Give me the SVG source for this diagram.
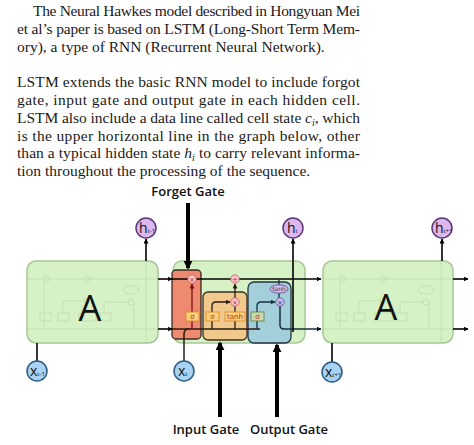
<svg xmlns="http://www.w3.org/2000/svg" width="474" height="445" viewBox="0 0 474 445">
<defs>
<marker id="ah" viewBox="0 0 10 10" refX="9" refY="5" markerWidth="5" markerHeight="5" orient="auto" markerUnits="userSpaceOnUse">
<path d="M0,0 L10,5 L0,10 z" fill="#000"/>
</marker>
<marker id="ahb" viewBox="0 0 10 10" refX="8" refY="5" markerWidth="9" markerHeight="9" orient="auto" markerUnits="userSpaceOnUse">
<path d="M0,0 L10,5 L0,10 z" fill="#000"/>
</marker>
<marker id="ahs" viewBox="0 0 10 10" refX="9" refY="5" markerWidth="5" markerHeight="5" orient="auto" markerUnits="userSpaceOnUse">
<path d="M0,0 L10,5 L0,10 z" fill="#2a1a10"/>
</marker>
<marker id="ahr" viewBox="0 0 10 10" refX="9" refY="5" markerWidth="5" markerHeight="5" orient="auto" markerUnits="userSpaceOnUse">
<path d="M0,0 L10,5 L0,10 z" fill="#7a1010"/>
</marker>
<marker id="aht" viewBox="0 0 10 10" refX="9" refY="5" markerWidth="5" markerHeight="5" orient="auto" markerUnits="userSpaceOnUse">
<path d="M0,0 L10,5 L0,10 z" fill="#17323d"/>
</marker>
</defs>
<style>
.body{font-family:"Liberation Serif","Times New Roman",serif;font-size:15.5px;fill:#1a1a1a}
.lbl{font-family:"Open Sans","DejaVu Sans",sans-serif;font-size:13px;font-weight:600;fill:#111;text-anchor:middle}
.cell{fill:#d6f1c6;stroke:#a5c795;stroke-width:1.5}
.ghost{fill:none;stroke:#a9c79a;stroke-width:1;opacity:.4}
.big{font-family:"Open Sans","DejaVu Sans",sans-serif;font-size:36px;fill:#111;text-anchor:middle}
.hc{fill:#dcb8ee;stroke:#5a3777;stroke-width:1.5}
.xc{fill:#a9d3f2;stroke:#2f5a82;stroke-width:1.5}
.nt{font-family:"Open Sans","DejaVu Sans",sans-serif;fill:#111}
.ln{stroke:#000;stroke-width:1.6;fill:none}
.thick{stroke:#000;stroke-width:4;fill:none}
.sig{fill:#fbcf7e;stroke:#d9832a;stroke-width:0.8}
.st{font-family:"DejaVu Sans",sans-serif;font-size:7px;fill:#b03a10;text-anchor:middle}
.op{fill:#f7c8cb;stroke:#c55a66;stroke-width:0.8}
.opt{font-family:"DejaVu Sans",sans-serif;font-size:7px;fill:#b0303a;text-anchor:middle}
</style>

<g id="text">
<text class="body" x="33" y="16" textLength="327" lengthAdjust="spacing">The Neural Hawkes model described in Hongyuan Mei</text>
<text class="body" x="17" y="34" textLength="343" lengthAdjust="spacing">et al’s paper is based on LSTM (Long-Short Term Mem-</text>
<text class="body" x="17" y="52">ory), a type of RNN (Recurrent Neural Network).</text>
<text class="body" x="17" y="87" textLength="343" lengthAdjust="spacing">LSTM extends the basic RNN model to include forgot</text>
<text class="body" x="17" y="105" textLength="343" lengthAdjust="spacing">gate, input gate and output gate in each hidden cell.</text>
<text class="body" x="17" y="123" textLength="343" lengthAdjust="spacing">LSTM also include a data line called cell state <tspan font-style="italic">c</tspan><tspan font-style="italic" font-size="10" dy="3">i</tspan><tspan dy="-3">, which</tspan></text>
<text class="body" x="17" y="141" textLength="343" lengthAdjust="spacing">is the upper horizontal line in the graph below, other</text>
<text class="body" x="17" y="158" textLength="343" lengthAdjust="spacing">than a typical hidden state <tspan font-style="italic">h</tspan><tspan font-style="italic" font-size="10" dy="3">i</tspan><tspan dy="-3"> to carry relevant informa-</tspan></text>
<text class="body" x="17" y="176">tion throughout the processing of the sequence.</text>
</g>

<g id="cell-left">
<rect class="cell" x="27" y="261" width="131" height="82" rx="9"/>
<g class="ghost">
<line x1="27" y1="279" x2="158" y2="279"/>
<line x1="27" y1="329" x2="158" y2="329"/>
<line x1="44" y1="329" x2="44" y2="282"/>
<circle cx="46" cy="279" r="3"/><circle cx="87" cy="279" r="3"/><circle cx="87" cy="301" r="3"/><circle cx="131" cy="302" r="3"/>
<rect x="40" y="313" width="11" height="8"/><rect x="58" y="313" width="11" height="8"/><rect x="79" y="313" width="18" height="8"/><rect x="100" y="313" width="11" height="8"/>
<path d="M104,313 V302 H127"/><path d="M63,313 V301 H84"/>
<ellipse cx="131" cy="290" rx="8" ry="4"/>
<path d="M134,302 V329"/><line x1="146" y1="261" x2="146" y2="343"/>
</g>
<text class="big" x="90" y="321">A</text>
</g>

<g id="cell-mid">
<rect class="cell" x="173" y="261" width="132" height="82" rx="9"/>
<rect x="172" y="270" width="29" height="69" rx="4" fill="#ee8a70" stroke="#3a2a22" stroke-width="1.3"/>
<rect x="203" y="292" width="44" height="48" rx="5" fill="#f2c98d" stroke="#3a2f22" stroke-width="1.3"/>
<rect x="248" y="282" width="43" height="61" rx="6" fill="#a2cfd9" stroke="#22343c" stroke-width="1.3"/>
</g>

<g id="cell-right">
<rect class="cell" x="323" y="261" width="130" height="82" rx="9"/>
<g class="ghost">
<line x1="323" y1="279" x2="453" y2="279"/>
<line x1="323" y1="329" x2="453" y2="329"/>
<line x1="340" y1="329" x2="340" y2="282"/>
<circle cx="342" cy="279" r="3"/><circle cx="383" cy="279" r="3"/><circle cx="383" cy="301" r="3"/><circle cx="426" cy="302" r="3"/>
<rect x="336" y="313" width="11" height="8"/><rect x="354" y="313" width="11" height="8"/><rect x="375" y="313" width="18" height="8"/><rect x="396" y="313" width="11" height="8"/>
<path d="M400,313 V302 H423"/><path d="M359,313 V301 H380"/>
<ellipse cx="426" cy="290" rx="8" ry="4"/>
<path d="M429,302 V329"/><line x1="441" y1="261" x2="441" y2="343"/>
</g>
<text class="big" x="386" y="320">A</text>
</g>

<g id="connectors">
<line class="ln" x1="146" y1="261" x2="146" y2="239" marker-end="url(#ah)"/>
<line class="ln" x1="442" y1="261" x2="442" y2="239" marker-end="url(#ah)"/>
<line class="ln" x1="158" y1="279" x2="172" y2="279" marker-end="url(#ah)"/>
<line class="ln" x1="158" y1="329" x2="172" y2="329" marker-end="url(#ah)"/>
<line class="ln" x1="453" y1="279" x2="468" y2="279" marker-end="url(#ah)"/>
<line class="ln" x1="453" y1="329" x2="468" y2="329" marker-end="url(#ah)"/>
<line class="ln" x1="37" y1="343" x2="37" y2="361"/>
<line class="ln" x1="332" y1="343" x2="332" y2="362"/>
<line class="ln" x1="172" y1="279" x2="321" y2="279" marker-end="url(#ah)"/>
<path d="M172,329 H260" stroke="#2a1a10" stroke-width="1.5" fill="none"/>
<path d="M184,361 V334 Q184,329 189,329" stroke="#2a1a10" stroke-width="1.5" fill="none"/>
<line x1="192" y1="329" x2="192" y2="321" stroke="#7a1010" stroke-width="1.3"/>
<line x1="192" y1="312" x2="192" y2="284" stroke="#7a1010" stroke-width="1.3" marker-end="url(#ahr)"/>
<line x1="212" y1="329" x2="212" y2="321" stroke="#2a1a10" stroke-width="1.3"/>
<path d="M212,312 V306 Q212,302 216,302 H230" stroke="#2a1a10" stroke-width="1.3" fill="none" marker-end="url(#ahs)"/>
<line x1="235" y1="329" x2="235" y2="321" stroke="#2a1a10" stroke-width="1.3"/>
<line x1="235" y1="312" x2="235" y2="306" stroke="#2a1a10" stroke-width="1.3"/>
<line x1="235" y1="298" x2="235" y2="284" stroke="#2a1a10" stroke-width="1.3" marker-end="url(#ahs)"/>
<line x1="257" y1="329" x2="257" y2="321" stroke="#17323d" stroke-width="1.3"/>
<path d="M257,312 V306 Q257,302 261,302 H275" stroke="#17323d" stroke-width="1.3" fill="none" marker-end="url(#aht)"/>
<line x1="279" y1="279" x2="279" y2="285" stroke="#17323d" stroke-width="1.3"/>
<line x1="279" y1="293" x2="279" y2="298" stroke="#17323d" stroke-width="1.3"/>
<path d="M280,306 V325 Q280,329 284,329 H321" stroke="#17323d" stroke-width="1.5" fill="none" marker-end="url(#ah)"/>
<line class="ln" x1="293" y1="332" x2="293" y2="239" marker-end="url(#ah)"/>
<line class="thick" x1="188" y1="203" x2="188" y2="268" marker-end="url(#ahb)"/>
<line class="thick" x1="220" y1="417" x2="220" y2="343" marker-end="url(#ahb)"/>
<line class="thick" x1="277" y1="417" x2="277" y2="345" marker-end="url(#ahb)"/>
</g>

<g id="ops">
<circle class="op" cx="192" cy="279" r="4.2"/><text class="opt" x="192" y="281.5">×</text>
<circle class="op" cx="235" cy="279" r="4.2"/><text class="opt" x="235" y="281.5">+</text>
<circle class="op" cx="235" cy="302" r="4.2"/><text class="opt" x="235" y="304.5">×</text>
<ellipse cx="279" cy="289" rx="9" ry="4.2" fill="#c9c1ea" stroke="#5a4a94" stroke-width="0.8"/>
<text x="279" y="291" font-family="DejaVu Sans,sans-serif" font-size="6" fill="#3a2f70" text-anchor="middle">tanh</text>
<circle cx="280" cy="302" r="4.2" fill="#c9c1ea" stroke="#5a4a94" stroke-width="0.8"/><text x="280" y="304.5" font-family="DejaVu Sans,sans-serif" font-size="7" fill="#3a2f70" text-anchor="middle">×</text>
<rect class="sig" x="186" y="312" width="13" height="9"/><text class="st" x="192.5" y="319">σ</text>
<rect class="sig" x="206" y="312" width="13" height="9"/><text class="st" x="212.5" y="319">σ</text>
<rect class="sig" x="225" y="312" width="20" height="9"/><text class="st" x="235" y="319">tanh</text>
<rect x="251" y="312" width="13" height="9" fill="#c8d9a8" stroke="#6a7a4a" stroke-width="0.8"/><text class="st" x="257.5" y="319" fill="#3a4a2a">σ</text>
</g>

<g id="h-prev"><circle class="hc" cx="146" cy="228" r="10"/><text class="nt" x="139" y="233" font-size="14">h<tspan font-size="6">t-1</tspan></text></g>
<g id="h-t"><circle class="hc" cx="293" cy="228" r="10"/><text class="nt" x="287" y="233" font-size="14">h<tspan font-size="6">t</tspan></text></g>
<g id="h-next"><circle class="hc" cx="442" cy="228" r="10"/><text class="nt" x="435" y="233" font-size="14">h<tspan font-size="6">t+1</tspan></text></g>
<g id="x-prev"><circle class="xc" cx="37" cy="371" r="10"/><text class="nt" x="30" y="376" font-size="14">x<tspan font-size="6">t-1</tspan></text></g>
<g id="x-t"><circle class="xc" cx="184" cy="371" r="10"/><text class="nt" x="178" y="376" font-size="14">x<tspan font-size="6">t</tspan></text></g>
<g id="x-next"><circle class="xc" cx="332" cy="372" r="10"/><text class="nt" x="325" y="377" font-size="14">x<tspan font-size="6">t+1</tspan></text></g>

<g id="labels">
<text class="lbl" x="188" y="196">Forget Gate</text>
<text class="lbl" x="206" y="434">Input Gate</text>
<text class="lbl" x="289" y="434">Output Gate</text>
</g>
</svg>
